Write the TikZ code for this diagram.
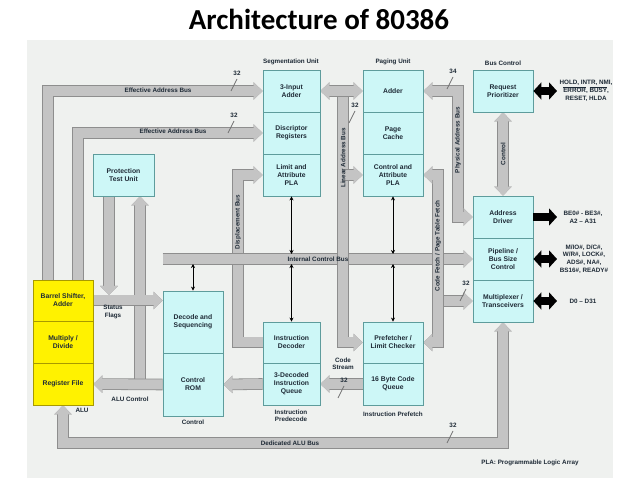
\documentclass[tikz,border=0pt]{standalone}
\usepackage{fontspec}
\setmainfont{Liberation Sans}
\newfontfamily\titlefont{Carlito}
\usetikzlibrary{arrows.meta}
\definecolor{panel}{HTML}{EFF1EF}
\definecolor{boxfill}{HTML}{CDF7F7}
\definecolor{boxline}{HTML}{5E9C9C}
\definecolor{aluy}{HTML}{FFF200}
\definecolor{aluline}{HTML}{A89A00}
\definecolor{busfill}{HTML}{C4C4C4}
\definecolor{busline}{HTML}{8E8E8E}
\definecolor{txt}{HTML}{1E2A36}
\tikzset{
  box/.style={draw=boxline, fill=boxfill, line width=0.8pt, minimum width=57pt, minimum height=42pt, inner sep=0pt, align=center, font=\fontsize{6.8}{8}\selectfont\bfseries, text=txt},
  wbox/.style={box, minimum width=60pt},
  alubox/.style={box, fill=aluy, draw=aluline, minimum width=60pt},
  bus/.style={line width=10pt, draw=busfill, preaction={draw=busline, line width=11.6pt}},
  ea/.style={-{Triangle[length=9pt,width=17pt]}},
  da/.style={{Triangle[length=9pt,width=17pt]}-{Triangle[length=9pt,width=17pt]}},
  blk/.style={draw=black, line width=0.9pt, {Stealth[length=4pt,width=4pt]}-{Stealth[length=4pt,width=4pt]}},
  ext/.style={draw=black, line width=8pt},
  extd/.style={ext, {Triangle[length=8pt,width=17pt]}-{Triangle[length=8pt,width=17pt]}},
  exte/.style={ext, -{Triangle[length=8pt,width=17pt]}},
  lbl/.style={font=\fontsize{6.3}{7.3}\selectfont\bfseries, text=txt, inner sep=0pt, align=center},
  sig/.style={lbl, font=\fontsize{6.3}{7.8}\selectfont\bfseries},
  slash/.style={draw=busline!80!black, line width=0.8pt}
}
\newcommand{\slashmark}[3]{\draw[slash] (#1+3,#2-6) -- (#1-3,#2+6); \node[lbl] at (#1+3,#2-12) {#3};}
\begin{document}
\begin{tikzpicture}[x=1pt,y=-1pt]
\useasboundingbox (0,0) rectangle (638,478);
\fill[white] (0,0) rectangle (638,478);
\fill[panel] (27,40) rectangle (613,478);
\node[font=\titlefont\bfseries\fontsize{29}{32}\selectfont, inner sep=0pt] (title) at (319,19) {Architecture of 80386};

\coordinate (dispx) at (238,0);
\coordinate (labx) at (343,0);
\coordinate (cfx) at (438,0);
\coordinate (pabx) at (458,0);
\coordinate (dab) at (0,443);
\coordinate (icbT) at (0,254);
\coordinate (icbB) at (0,264);
\coordinate (sf) at (0,295);

\path
 node[box] (add3) at (291.5,91) {3-Input\\Adder}
 node[box] (desc) at (291.5,133) {Discriptor\\Registers}
 node[box] (lim) at (291.5,175) {Limit and\\Attribute\\PLA}
 node[wbox] (padd) at (393,91) {Adder}
 node[wbox] (pcache) at (393,133) {Page\\Cache}
 node[wbox] (cpla) at (393,175) {Control and\\Attribute\\PLA}
 node[wbox] (reqp) at (503,91) {Request\\Prioritizer}
 node[wbox] (addrd) at (503,217) {Address\\Driver}
 node[wbox] (pipe) at (503,259) {Pipeline /\\Bus Size\\Control}
 node[wbox] (mux) at (503,301) {Multiplexer /\\Transceivers}
 node[box, minimum width=61pt] (ptu) at (123.5,175) {Protection\\Test Unit}
 node[alubox, minimum height=41pt] (barrel) at (63,300.5) {Barrel Shifter,\\Adder}
 node[alubox] (mult) at (63,342) {Multiply /\\Divide}
 node[alubox] (regf) at (63,384) {Register File}
 node[wbox, minimum height=62pt] (dec) at (193,322) {Decode and\\Sequencing}
 node[wbox, minimum height=63pt] (crom) at (193,384.5) {Control\\ROM}
 node[box, minimum height=41pt] (idec) at (291.5,342.5) {Instruction\\Decoder}
 node[box] (iq) at (291.5,384) {3-Decoded\\Instruction\\Queue}
 node[wbox, minimum height=41pt] (pref) at (393,342.5) {Prefetcher /\\Limit Checker}
 node[wbox] (cq) at (393,384) {16 Byte Code\\Queue};

\draw[bus,ea] ([xshift=-15pt]barrel.north) |- (add3.west);
\draw[bus,ea] ([xshift=15pt]barrel.north) |- (desc.west);
\draw[bus,ea] ([xshift=16.5pt]ptu.south |- crom.west) -- ([xshift=16.5pt]ptu.south);
\draw[bus,ea] ([xshift=-14.5pt]ptu.south) -- ([xshift=-14.5pt]ptu.south |- sf);
\draw[bus,ea] (barrel.east) -- (dec.west |- barrel.east);
\draw[bus,ea] (crom.west) -- (regf.east);
\draw[bus,ea] (idec.west) -- (idec.west -| dispx) -- (dispx |- lim.west) -- (lim.west);
\draw[bus,ea] (dec.west |- pipe.west) -- (pipe.west);
\draw[bus,ea] (labx |- add3.east) -- (labx |- pref.west) -- (pref.west);
\draw[bus,ea] (labx |- cpla.west) -- (cpla.west);
\draw[bus,da] (add3.east) -- (padd.west);
\draw[bus,da] (padd.east) -- (pabx |- padd.east) -- (pabx |- addrd.west) -- (addrd.west);
\draw[bus,ea] (cfx |- mux.west) -- (mux.west);
\draw[bus,da] (cpla.east) -- (cfx |- cpla.east) -- (cfx |- pref.east) -- (pref.east);
\draw[bus,da] (reqp.south) -- (addrd.north);
\draw[bus,ea] (cq.west) -- (iq.east);
\draw[bus,ea] (iq.west) -- (crom.east);
\draw[bus,da] (regf.south) -- (regf.south |- dab) -- (mux.south |- dab) -- (mux.south);

\path
 node[box] at (add3) {3-Input\\Adder}
 node[box] at (desc) {Discriptor\\Registers}
 node[box] at (lim) {Limit and\\Attribute\\PLA}
 node[wbox] at (padd) {Adder}
 node[wbox] at (cpla) {Control and\\Attribute\\PLA}
 node[wbox] at (reqp) {Request\\Prioritizer}
 node[wbox] at (addrd) {Address\\Driver}
 node[wbox] at (pipe) {Pipeline /\\Bus Size\\Control}
 node[wbox] at (mux) {Multiplexer /\\Transceivers}
 node[box, minimum width=61pt] at (ptu) {Protection\\Test Unit}
 node[alubox, minimum height=41pt] at (barrel) {Barrel Shifter,\\Adder}
 node[alubox] at (regf) {Register File}
 node[wbox, minimum height=62pt] at (dec) {Decode and\\Sequencing}
 node[wbox, minimum height=63pt] at (crom) {Control\\ROM}
 node[box, minimum height=41pt] at (idec) {Instruction\\Decoder}
 node[box] at (iq) {3-Decoded\\Instruction\\Queue}
 node[wbox, minimum height=41pt] at (pref) {Prefetcher /\\Limit Checker}
 node[wbox] at (cq) {16 Byte Code\\Queue};

\draw[blk] (dec.north) -- (dec.north |- icbB);
\draw[blk] (lim.south) -- (lim.south |- icbT);
\draw[blk] (idec.north) -- (idec.north |- icbB);
\draw[blk] (cpla.south) -- (cpla.south |- icbT);
\draw[blk] (pref.north) -- (pref.north |- icbB);

\coordinate (xa) at (557,91);
\coordinate (xb) at (557,217);
\coordinate (xc) at (557,259);
\coordinate (xd) at (557,301);
\draw[extd] (reqp.east) -- (xa);
\draw[exte] (addrd.east) -- (xb);
\draw[extd] (pipe.east) -- (xc);
\draw[extd] (mux.east) -- (xd);
\node[sig] (sa) at (586,91) {HOLD, INTR, NMI,\\$\overline{\mbox{ERROR}}$, $\overline{\mbox{BUSY}}$,\\RESET, HLDA};
\node[sig] (sb) at (583,217) {BE0\# - BE3\#,\\A2 -- A31};
\node[sig] (sc) at (584,259) {M/IO\#, D/C\#,\\W/R\#, LOCK\#,\\ADS\#, NA\#,\\BS16\#, READY\#};
\node[sig] (sd) at (583,301) {D0 -- D31};

\node[lbl] at (291,62) {Segmentation Unit};
\node[lbl] at (393,62) {Paging Unit};
\node[lbl] at (503,63) {Bus Control};
\node[lbl] at (158,90) {Effective Address Bus};
\node[lbl] at (173,131) {Effective Address Bus};
\node[lbl] at (318,259) {Internal Control Bus};
\node[lbl,rotate=90] at (238,222) {Displacement Bus};
\node[lbl,rotate=90] at (343,158) {Linear Address Bus};
\node[lbl,rotate=90] at (458,140) {Physical Address Bus};
\node[lbl,rotate=90] at (438,246) {Code Fetch / Page Table Fetch};
\node[lbl,rotate=90] at (503,154) {Control};
\node[lbl] at (290,443) {Dedicated ALU Bus};
\node[lbl] at (113,312) {Status\\Flags};
\node[lbl] at (130,399) {ALU Control};
\node[lbl] at (82,410) {ALU};
\node[lbl] at (193,422) {Control};
\node[lbl] at (291,416) {Instruction\\Predecode};
\node[lbl] at (393,414) {Instruction Prefetch};
\node[lbl] at (343,364) {Code\\Stream};
\node[lbl] at (530,463) {PLA: Programmable Logic Array};

\slashmark{234}{85}{32}
\slashmark{231}{127}{32}
\slashmark{352}{117}{32}
\slashmark{450}{83}{34}
\slashmark{463}{295}{32}
\slashmark{341}{392}{32}
\slashmark{450}{437}{32}
\end{tikzpicture}
\end{document}
